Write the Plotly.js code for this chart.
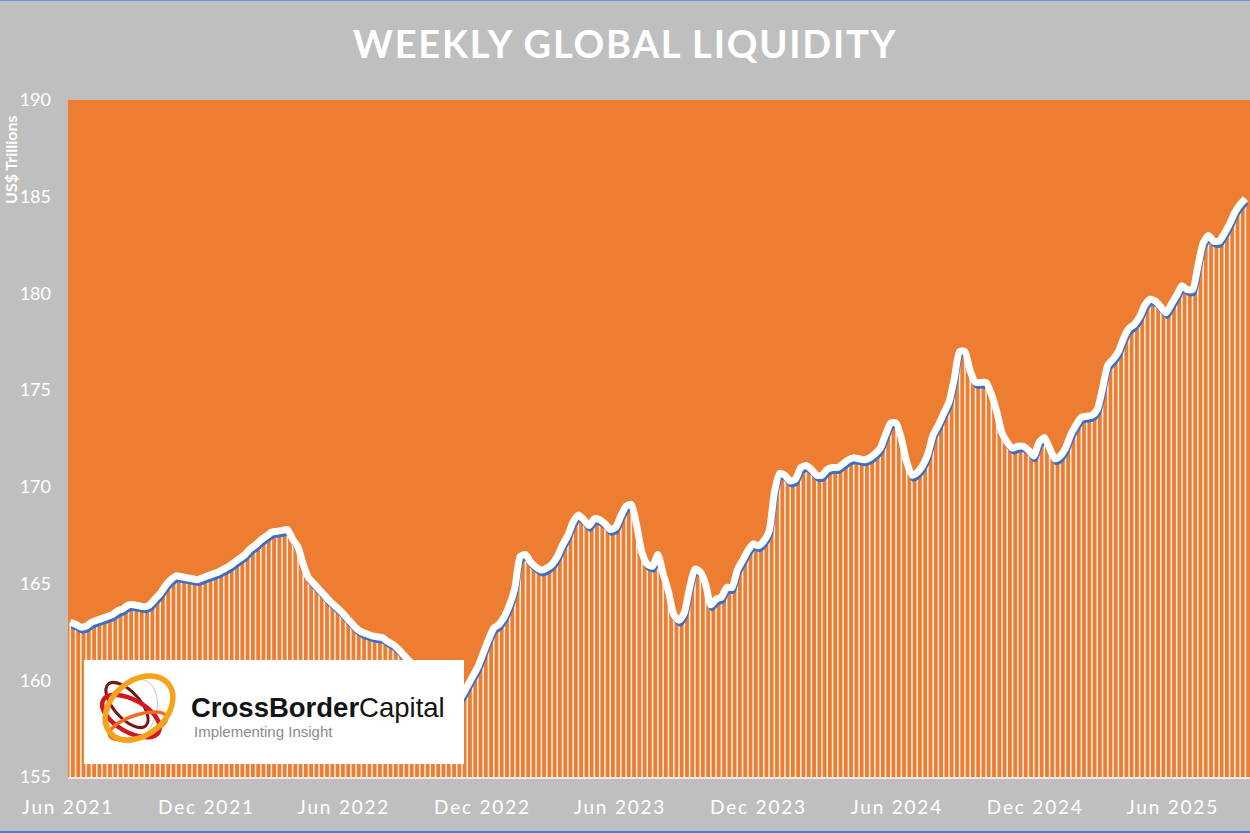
<!DOCTYPE html>
<html>
<head>
<meta charset="utf-8">
<script src="https://cdn.plot.ly/plotly-3.0.1.min.js"></script>
<style>
  html, body { margin: 0; padding: 0; background: #bfbfbf; }
  #chart { width: 1250px; height: 833px; }
  .xtick text { letter-spacing: 1.8px; }
  .gtitle { letter-spacing: 1.8px; }
</style>
</head>
<body>
<div id="chart"></div>
<script>
// ---------------- DATA ----------------
const firstWeek = '2021-06-04';   // first weekly observation
const liquidity = [
  163.0, 162.9, 162.75, 162.8, 163.0, 163.1, 163.2, 163.3, 163.4, 163.6,
  163.7, 163.9, 163.9, 163.85, 163.8, 163.9, 164.2, 164.5, 164.9, 165.2,
  165.4, 165.35, 165.3, 165.25, 165.2, 165.3, 165.4, 165.5, 165.6, 165.75,
  165.9, 166.1, 166.3, 166.5, 166.8, 167.0, 167.25, 167.45, 167.65, 167.7,
  167.75, 167.8, 167.3, 166.9, 166.0, 165.3, 165.0, 164.7, 164.4, 164.1,
  163.85, 163.6, 163.3, 163.0, 162.7, 162.5, 162.4, 162.3, 162.25, 162.2,
  162.0, 161.85, 161.6, 161.3, 161.0, 160.8, 160.6, 160.3, 159.9, 159.5,
  159.2, 158.9, 158.8, 158.9, 159.2, 159.7, 160.2, 160.7, 161.4, 162.1,
  162.7, 162.9, 163.3, 163.9, 164.8, 166.4, 166.5, 166.1, 165.85, 165.7,
  165.8, 166.0, 166.4, 167.0, 167.5, 168.2, 168.55, 168.3, 168.0, 168.35,
  168.3, 168.1, 167.8, 167.9, 168.5, 169.0, 169.1, 168.0, 166.6, 166.0,
  165.9, 166.5, 165.5, 164.6, 163.4, 163.1, 163.5, 164.8, 165.75, 165.6,
  165.0, 163.9, 164.2, 164.3, 164.8, 164.8, 165.7, 166.2, 166.7, 167.05,
  166.95, 167.2, 167.7, 169.7, 170.7, 170.6, 170.3, 170.4, 171.0, 171.1,
  170.9, 170.6, 170.6, 170.9, 171.0, 171.0, 171.2, 171.4, 171.5, 171.45,
  171.4, 171.5, 171.7, 172.0, 172.7, 173.3, 173.3, 172.5, 171.3, 170.6,
  170.75, 171.1, 171.7, 172.7, 173.2, 173.8, 174.4, 175.6, 177.0, 177.0,
  176.0, 175.4, 175.4, 175.4, 174.8, 173.9, 172.8, 172.3, 172.0, 172.1,
  172.1, 171.9, 171.6, 172.3, 172.55, 172.0, 171.45, 171.6, 172.0, 172.7,
  173.2, 173.6, 173.65, 173.7, 174.0, 175.1, 176.3, 176.6, 177.0, 177.7,
  178.2, 178.4, 178.8, 179.4, 179.7, 179.6, 179.3, 179.0, 179.45, 179.9,
  180.4, 180.2, 180.2, 181.4, 182.6, 183.0, 182.7, 182.7, 183.1, 183.6,
  184.2, 184.6, 184.9
];
const tickDates  = ['2021-06-01','2021-12-01','2022-06-01','2022-12-01','2023-06-01','2023-12-01','2024-06-01','2024-12-01','2025-06-01'];
const tickLabels = ['Jun 2021','Dec 2021','Jun 2022','Dec 2022','Jun 2023','Dec 2023','Jun 2024','Dec 2024','Jun 2025'];
const yTicks = [155, 160, 165, 170, 175, 180, 185, 190];

// weekly dates
const t0 = Date.parse(firstWeek + 'T00:00:00Z');
const weeks = liquidity.map((_, i) => new Date(t0 + i * 7 * 86400000).toISOString().slice(0, 10));

// ---------------- STYLE ----------------
const ORANGE = '#ED7D31';
const GREY = '#BFBFBF';
const BLUE = '#3A6FC8';
const FONT = 'Lato, "Open Sans", sans-serif';

const M = { l: 68, r: 0, t: 100, b: 56 };
const PW = 1250 - M.l - M.r, PH = 833 - M.t - M.b;
const px = (x, y) => ((x - M.l) / PW).toFixed(5) + ',' + ((833 - M.b - y) / PH).toFixed(5);
const pX = x => (x - M.l) / PW;
const pY = y => (833 - M.b - y) / PH;

function ellipsePath(cx, cy, rx, ry, rotDeg) {
  const k = 0.5523, th = rotDeg * Math.PI / 180, c = Math.cos(th), s = Math.sin(th);
  const pt = (u, v) => px(cx + u * c - v * s, cy + u * s + v * c);
  return 'M' + pt(rx, 0) +
    ' C' + pt(rx, k * ry) + ' ' + pt(k * rx, ry) + ' ' + pt(0, ry) +
    ' C' + pt(-k * rx, ry) + ' ' + pt(-rx, k * ry) + ' ' + pt(-rx, 0) +
    ' C' + pt(-rx, -k * ry) + ' ' + pt(-k * rx, -ry) + ' ' + pt(0, -ry) +
    ' C' + pt(k * rx, -ry) + ' ' + pt(rx, -k * ry) + ' ' + pt(rx, 0) + ' Z';
}

const xRange = ['2021-06-01', '2025-09-11'];
const shiftMs = 1.6 * 86400000;
const xRange2 = [new Date(Date.parse(xRange[0]) - shiftMs).toISOString(), new Date(Date.parse(xRange[1]) - shiftMs).toISOString()];
const yRange = [155, 190];
const yShift = 0.2;

const traces = [
  { type: 'bar', x: weeks, y: liquidity, xaxis: 'x', yaxis: 'y',
    marker: { color: 'rgba(255,255,255,0.9)', line: { width: 0 } }, hoverinfo: 'skip' },
  { type: 'scatter', mode: 'lines', x: weeks, y: liquidity, xaxis: 'x2', yaxis: 'y2',
    line: { color: BLUE, width: 5, shape: 'spline', smoothing: 0.6 }, hoverinfo: 'skip' },
  { type: 'scatter', mode: 'lines', x: weeks, y: liquidity, xaxis: 'x3', yaxis: 'y3',
    line: { color: '#FFFFFF', width: 7, shape: 'spline', smoothing: 0.6 }, hoverinfo: 'skip' }
];

const shapes = [
  // logo box
  { type: 'rect', xref: 'paper', yref: 'paper', layer: 'above',
    x0: pX(84), x1: pX(464), y0: pY(764), y1: pY(660),
    fillcolor: '#FFFFFF', line: { width: 0 } },
  // logo rings
  { type: 'path', xref: 'paper', yref: 'paper', layer: 'above', path: ellipsePath(133, 711, 33, 23, -70), line: { color: '#b5b5b5', width: 0.8 } },
  { type: 'path', xref: 'paper', yref: 'paper', layer: 'above', path: ellipsePath(127, 705, 28, 13, 48), line: { color: '#7a1512', width: 3 } },
  { type: 'path', xref: 'paper', yref: 'paper', layer: 'above', path: ellipsePath(131, 716, 32, 16, 30), line: { color: '#d3171f', width: 4.5 } },
  { type: 'path', xref: 'paper', yref: 'paper', layer: 'above', path: ellipsePath(138, 726, 30, 11, -18), line: { color: '#ee6f1f', width: 3.5 } },
  { type: 'path', xref: 'paper', yref: 'paper', layer: 'above', path: ellipsePath(139, 708, 38, 27, -40), line: { color: '#f6a21b', width: 5.5 } },
  // figure border lines (top & bottom)
  { type: 'line', xref: 'paper', yref: 'paper', x0: pX(0), x1: pX(1250), y0: pY(832), y1: pY(832), line: { color: '#4a7fd0', width: 2 } },
  { type: 'line', xref: 'paper', yref: 'paper', x0: pX(0), x1: pX(1250), y0: pY(0.5), y1: pY(0.5), line: { color: '#6d95d6', width: 1 } }
];

const annotations = [
  { xref: 'paper', yref: 'paper', x: pX(10), y: pY(160), text: '<b>US$ Trillions</b>', textangle: -90,
    showarrow: false, font: { family: FONT, size: 16, color: '#FFFFFF' }, xanchor: 'center', yanchor: 'middle' },
  { xref: 'paper', yref: 'paper', x: pX(189), y: pY(707), text: '<b>CrossBorder</b>Capital',
    showarrow: false, xanchor: 'left', yanchor: 'middle',
    font: { family: '"Liberation Sans", Arial, sans-serif', size: 27.5, color: '#141414' } },
  { xref: 'paper', yref: 'paper', x: pX(192), y: pY(731), text: 'Implementing Insight',
    showarrow: false, xanchor: 'left', yanchor: 'middle',
    font: { family: '"Liberation Sans", Arial, sans-serif', size: 15, color: '#8a8a8a' } }
];

const layout = {
  width: 1250, height: 833,
  paper_bgcolor: GREY, plot_bgcolor: ORANGE,
  margin: M,
  showlegend: false,
  bargap: 0.72,
  title: { text: 'WEEKLY GLOBAL LIQUIDITY', x: 0.5, xref: 'container', xanchor: 'center',
           y: 1 - 45 / 833, yref: 'container', yanchor: 'middle',
           font: { family: FONT, size: 38, color: '#FFFFFF', weight: 'bold' } },
  xaxis: { type: 'date', range: xRange, tickvals: tickDates, ticktext: tickLabels,
           showgrid: false, zeroline: false, ticks: '', ticklabelstandoff: 12,
           showline: true, linecolor: '#F4E8DE', linewidth: 2,
           tickfont: { family: FONT, size: 19, color: '#FFFFFF' } },
  yaxis: { range: yRange, tickvals: yTicks, showgrid: false, zeroline: false, ticks: '',
           ticklabelstandoff: 16, tickfont: { family: FONT, size: 18, color: '#FFFFFF' } },
  xaxis2: { type: 'date', overlaying: 'x', range: xRange2, visible: false },
  yaxis2: { overlaying: 'y', range: [yRange[0] + yShift, yRange[1] + yShift], visible: false },
  xaxis3: { type: 'date', overlaying: 'x', range: xRange, visible: false },
  yaxis3: { overlaying: 'y', range: yRange, visible: false },
  shapes: shapes,
  annotations: annotations
};

Plotly.newPlot('chart', traces, layout, { staticPlot: true, displayModeBar: false });
</script>
</body>
</html>
